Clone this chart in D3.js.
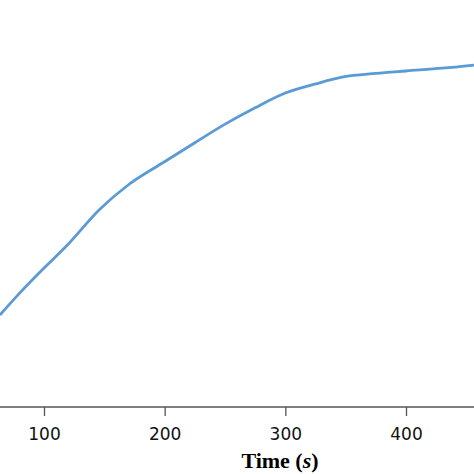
<!DOCTYPE html><html><head><script src="https://d3js.org/d3.v7.min.js"></script>
<style>body{margin:0;background:#fff}</style></head><body><svg id="c" width="474" height="474"></svg>
<script>
const timeValues=[63.5,80,100,120,145.6,170,199.5,225,249,275,300,325,348,375,400,430,456.3];
const seriesValues=[26.3,32.6,39.7,46.5,56.3,63.5,70,75.5,80.6,85.5,89.7,92.3,94.3,95.3,96,96.8,97.7];
const xTicks=[100,200,300,400];
const svg=d3.select("#c");
const x=d3.scaleLinear().domain([100,400]).range([44,406]);
const y=d3.scaleLinear().domain([0,100]).range([407,57]);
svg.append("path").datum(timeValues.map((t,i)=>[t,seriesValues[i]]))
 .attr("d",d3.line().x(d=>x(d[0])).y(d=>y(d[1])).curve(d3.curveMonotoneX))
 .attr("fill","none").attr("stroke","#5b9bd5").attr("stroke-width",2.8);
const ax=svg.append("g").attr("transform","translate(0,407)")
 .call(d3.axisBottom(x).tickValues(xTicks).tickSize(9).tickPadding(12).tickSizeOuter(0));
ax.select(".domain").attr("d","M0,0H474").attr("stroke","#555").attr("stroke-width",1.3);
ax.selectAll("line").attr("stroke","#555").attr("stroke-width",1.3);
ax.selectAll("text").attr("font-family","'DejaVu Sans',sans-serif").attr("font-size",17).attr("fill","#111");
const t=svg.append("text").attr("x",280).attr("y",468).attr("text-anchor","middle")
 .attr("font-family","'Liberation Serif',serif").attr("font-weight","bold").attr("font-size",22);
t.append("tspan").text("Time (");t.append("tspan").attr("font-style","italic").text("s");t.append("tspan").text(")");
</script></body></html>
